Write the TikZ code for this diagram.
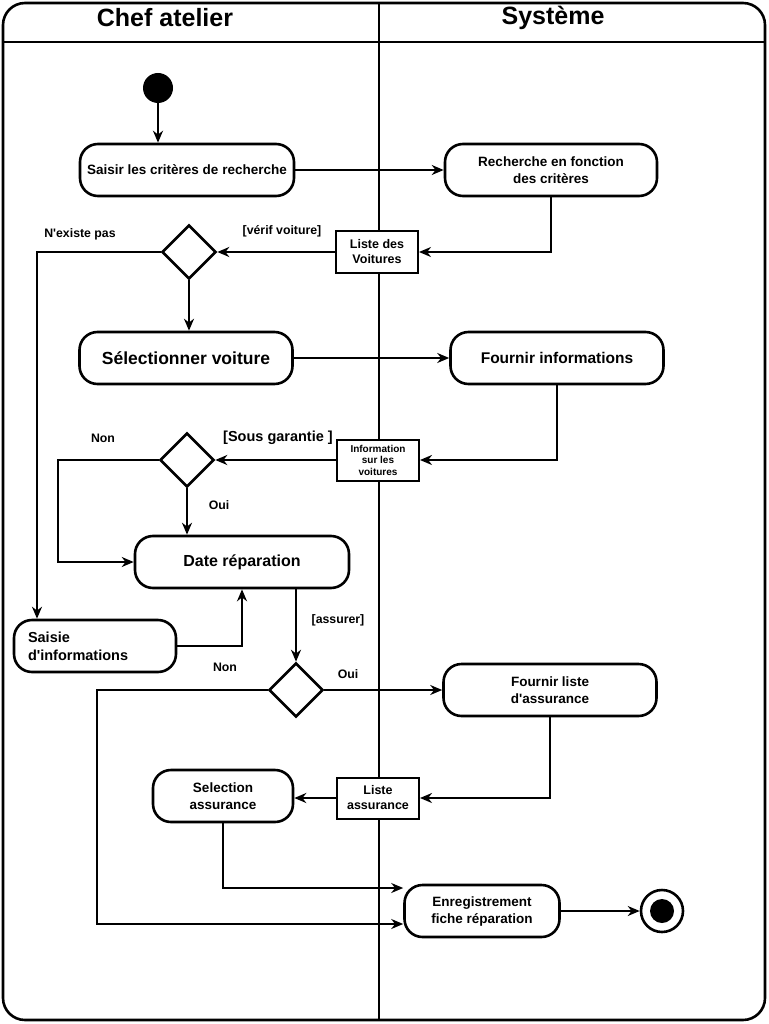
\documentclass[tikz,border=0pt]{standalone}
\usepackage{fontspec}
\setmainfont{Liberation Sans}
\usetikzlibrary{positioning,shapes.geometric,arrows.meta}

\tikzset{
  act/.style={draw,line width=2.6pt,rounded corners=18pt,minimum height=52pt,align=center,font=\bfseries\fontsize{13.5}{17}\selectfont},
  obj/.style={draw,line width=2pt,minimum width=82pt,minimum height=41pt,align=center,font=\bfseries\fontsize{12.5}{15}\selectfont,fill=white},
  dec/.style={draw,line width=2.6pt,diamond,minimum width=54pt,minimum height=54pt,inner sep=0pt},
  lbl/.style={font=\bfseries\fontsize{12.3}{14}\selectfont},
  flow/.style={line width=2.6pt,-{Stealth[length=12pt,width=10pt]}}
}

\begin{document}
\begin{tikzpicture}[x=1pt,y=-1pt]
    \useasboundingbox (0,0) rectangle (768,1024);
    % swimlanes
    \draw[line width=2.6pt,rounded corners=22pt] (3,3) rectangle (765,1020);
    \draw[line width=2.6pt] (3,42) -- (765,42);
    \draw[line width=2.6pt] (379,3) -- (379,1020);
    \node[font=\bfseries\fontsize{25}{28}\selectfont] (laneA) at (165,18) {Chef atelier};
    \node[font=\bfseries\fontsize{25}{28}\selectfont] (laneB) at (553,18) {Système};

    \node[circle,fill=black,minimum size=30pt,inner sep=0pt] (start) at (158,88) {};
    \node[act,minimum width=214pt,font=\bfseries\fontsize{13.5}{16}\selectfont] (saisir) at (187,170) {Saisir les critères de recherche};
    \node[act,minimum width=212pt] (recherche) at (551,170) {Recherche en fonction\\des critères};
    \node[obj] (listeV) at (377,252) {Liste des\\Voitures};
    \node[dec] (verif) at (189,252) {};
    \node[act,minimum width=213pt,font=\bfseries\fontsize{17.5}{20}\selectfont] (select) at (186,358) {Sélectionner voiture};
    \node[act,minimum width=213pt,font=\bfseries\fontsize{15.5}{18}\selectfont] (fournir) at (557,358) {Fournir informations};
    \node[obj,font=\bfseries\fontsize{10}{11.5}\selectfont] (infoV) at (378,460) {Information\\sur les\\voitures};
    \node[dec] (garantie) at (187,460) {};
    \node[act,minimum width=214pt,font=\bfseries\fontsize{16}{19}\selectfont] (date) at (242,562) {Date réparation};
    \node[act,minimum width=162pt,text width=134pt,align=left,font=\bfseries\fontsize{14.5}{18}\selectfont] (saisie) at (95,646) {Saisie\\d\textquotesingle informations};
    \node[dec] (assurer) at (296,690) {};
    \node[act,minimum width=213pt] (listeA) at (550,690) {Fournir liste\\d\textquotesingle assurance};
    \node[obj] (objA) at (378,798) {Liste\\assurance};
    \node[act,minimum width=140pt] (selA) at (223,796) {Selection\\assurance};
    \node[act,minimum width=155pt] (enreg) at (482,911) {Enregistrement\\fiche réparation};
    \node[circle,draw,line width=2.6pt,minimum size=42pt,inner sep=0pt] (stop) at (662,911) {};
    \node[circle,fill=black,minimum size=24pt,inner sep=0pt] (stopin) at (662,911) {};

    % guards
    \node[lbl] (g1) at (282,231) {[vérif voiture]};
    \node[lbl] (g2) at (80,234) {N\textquotesingle existe pas};
    \node[lbl,font=\bfseries\fontsize{14.5}{17}\selectfont] (g3) at (278,438) {[Sous garantie ]};
    \node[lbl] (g4) at (103,438) {Non};
    \node[lbl] (g5) at (219,505) {Oui};
    \node[lbl] (g6) at (338,620) {[assurer]};
    \node[lbl] (g7) at (225,667) {Non};
    \node[lbl] (g8) at (348,674) {Oui};

    % flows
    \draw[flow] (start.south) -- (saisir.north -| start.south);
    \draw[flow] (saisir) -- (recherche);
    \draw[flow] (recherche.south) |- (listeV.east);
    \draw[flow] (listeV) -- (verif);
    \draw[flow] (verif.west) -- (37,252) -- (saisie.north -| 37,0);
    \draw[flow] (verif.south) -- (select.north -| verif.south);
    \draw[flow] (select) -- (fournir);
    \draw[flow] (fournir.south) |- (infoV.east);
    \draw[flow] (infoV) -- (garantie);
    \draw[flow] (garantie.west) -- (58,460) |- (date.west);
    \draw[flow] (garantie.south) -- (date.north -| garantie.south);
    \draw[flow] (saisie.east) -| (date.south);
    \draw[flow] (date.south -| assurer.north) -- (assurer.north);
    \draw[flow] (assurer.west) -- (97,690) |- (enreg.west |- 0,924);
    \draw[flow] (assurer.east) -- (listeA.west);
    \draw[flow] (listeA.south) |- (objA.east);
    \draw[flow] (objA.west) -- (selA.east |- objA.west);
    \draw[flow] (selA.south) |- (enreg.west |- 0,888);
    \draw[flow] (enreg) -- (stop);
\end{tikzpicture}
\end{document}
